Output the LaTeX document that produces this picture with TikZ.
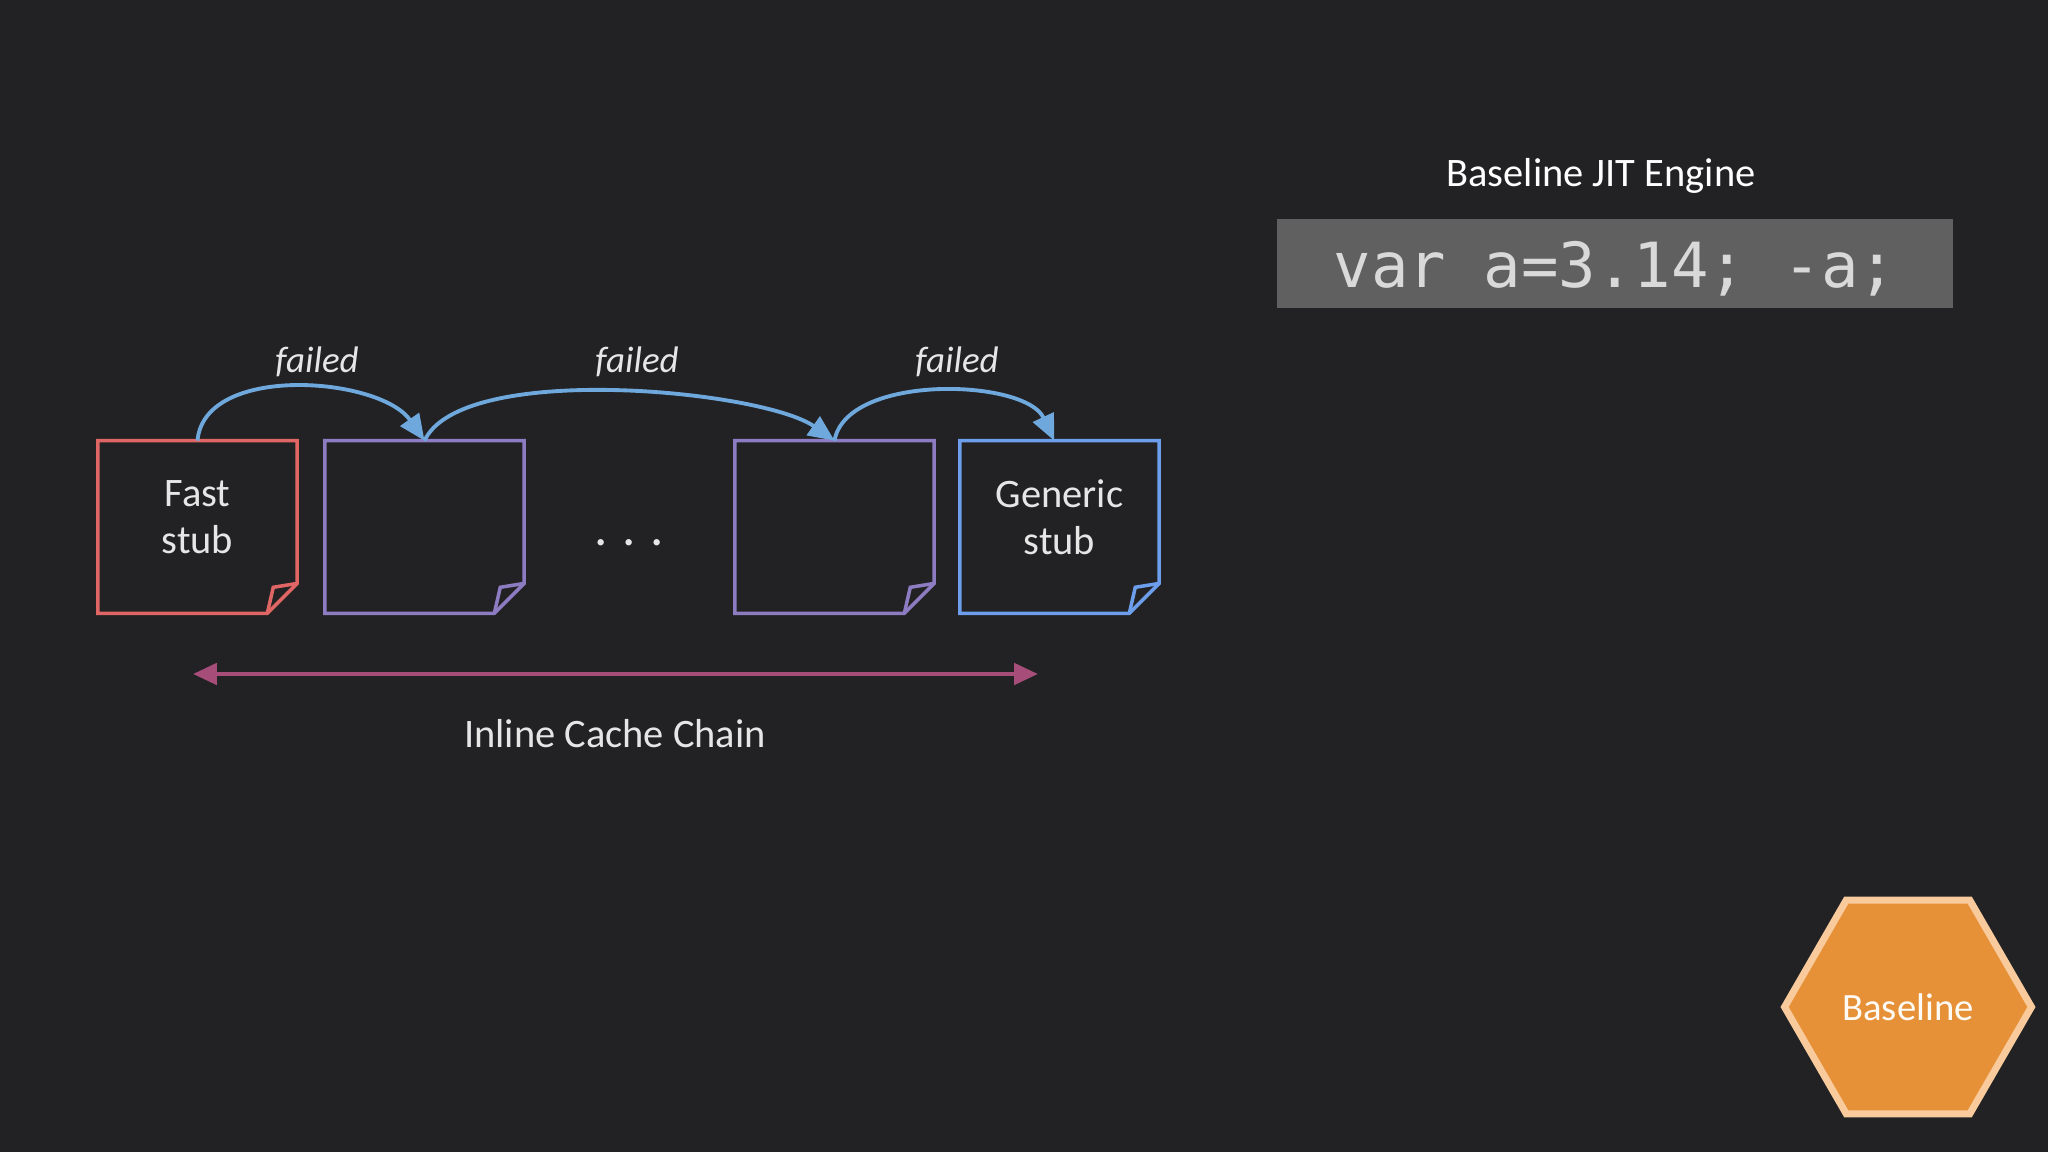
\documentclass[tikz,border=0pt]{standalone}
\usepackage{fontspec}
\setmainfont{Carlito}
\newfontfamily\codefont{DejaVu Sans Mono}
\usetikzlibrary{arrows.meta}
\usetikzlibrary{shapes}

\definecolor{bgDark}{HTML}{222224}
\definecolor{textGray}{HTML}{E6E6E6}
\definecolor{stubRed}{HTML}{E06666}
\definecolor{stubPurple}{HTML}{8E7CC3}
\definecolor{stubBlue}{HTML}{6D9EEB}
\definecolor{arrowBlue}{HTML}{6FA8DC}
\definecolor{chainPink}{HTML}{A64D79}
\definecolor{codeGray}{HTML}{606060}
\definecolor{codeText}{HTML}{D9D9D9}
\definecolor{hexFill}{HTML}{E69138}
\definecolor{hexLine}{HTML}{F9CB9C}

\begin{document}
\begin{tikzpicture}[x = 0.01cm, y = 0.01cm, font = \fontsize{11.5}{13.4}\selectfont]
	\tikzstyle{stubStyle} = [shape = rectangle, minimum width = 56.3pt, minimum height = 48.7pt, inner sep = 0pt, align = center, text depth = 5.8pt, text = textGray]
	\tikzstyle{outlineStyle} = [line width = 1pt, line join = miter]
	\tikzstyle{failedArrow} = [draw = arrowBlue, line width = 1.1pt, -{Triangle[length = 7.4pt, width = 6.4pt]}]
	\tikzstyle{failedLabel} = [text = textGray, font = \fontsize{10.5}{12}\selectfont\itshape]
	\tikzstyle{chainArrow} = [draw = chainPink, line width = 1.3pt, {Triangle[length = 6.8pt, width = 6pt]}-{Triangle[length = 6.8pt, width = 6pt]}]
	\tikzstyle{codeStyle} = [fill = codeGray, minimum width = 192.3pt, minimum height = 25.3pt, inner sep = 0pt, text = codeText, text height = 15.5pt, text depth = 2.1pt, font = \codefont\fontsize{17.7}{20}\selectfont]
	\tikzstyle{hexStyle} = [shape = regular polygon, regular polygon sides = 6, minimum size = 70.2pt, inner sep = 0pt, fill = hexFill, draw = hexLine, line width = 2pt, text = white!92!hexLine, font = \fontsize{11}{13}\selectfont]
	\fill[bgDark] (0,0) rectangle (2048,1152);
	\useasboundingbox (0,0) rectangle (2048,1152);
	% the stubs of the chain
	\node[stubStyle] (fast) at (197.5,625) {Fast\\stub};
	\node[stubStyle] (mid1) at (424.5,625) {};
	\node[stubStyle] (mid2) at (834.5,625) {};
	\node[stubStyle] (generic) at (1059.5,625) {Generic\\stub};
	\node[text = textGray, font = \fontsize{15}{15}\selectfont] (dots) at (629,609) {.\hspace{4.2pt}.\hspace{4.2pt}.};
	\foreach \n/\c in {fast/stubRed, mid1/stubPurple, mid2/stubPurple, generic/stubBlue}{
		\draw[outlineStyle, draw = \c] (\n.north west) -- (\n.north east) -- ([yshift = 8.5pt]\n.south east) -- ([xshift = -8.5pt]\n.south east) -- (\n.south west) -- cycle;
		\draw[outlineStyle, draw = \c] ([yshift = 8.5pt]\n.south east) -- ([shift = {(-6.8pt,7.4pt)}]\n.south east) -- ([xshift = -8.5pt]\n.south east);
	}
	% failed jumps
	\node[failedLabel] (f1) at (317,790) {failed};
	\node[failedLabel] (f2) at (637,790) {failed};
	\node[failedLabel] (f3) at (957,790) {failed};
	\draw[failedArrow] (fast.north) to[out = 85, in = 125, looseness = 0.88] (mid1.north);
	\draw[failedArrow] (mid1.north) to[out = 65, in = 145, looseness = 0.55] (mid2.north);
	\draw[failedArrow] (mid2.north) to[out = 80, in = 115, looseness = 0.8] ([xshift = -1.5pt]generic.north);
	% chain
	\coordinate (chainL) at (193,478);
	\coordinate (chainR) at (1038,478);
	\draw[chainArrow] (chainL) -- (chainR);
	\node[text = textGray] (chain) at (615,418) {Inline Cache Chain};
	% engine
	\node[text = white!95!textGray] (engine) at (1601,976) {Baseline JIT Engine};
	\node[codeStyle] (code) at (1615,888.5) {var a=3.14; -a;};
	\node[hexStyle] (baseline) at (1908,145) {Baseline};
\end{tikzpicture}
\end{document}
